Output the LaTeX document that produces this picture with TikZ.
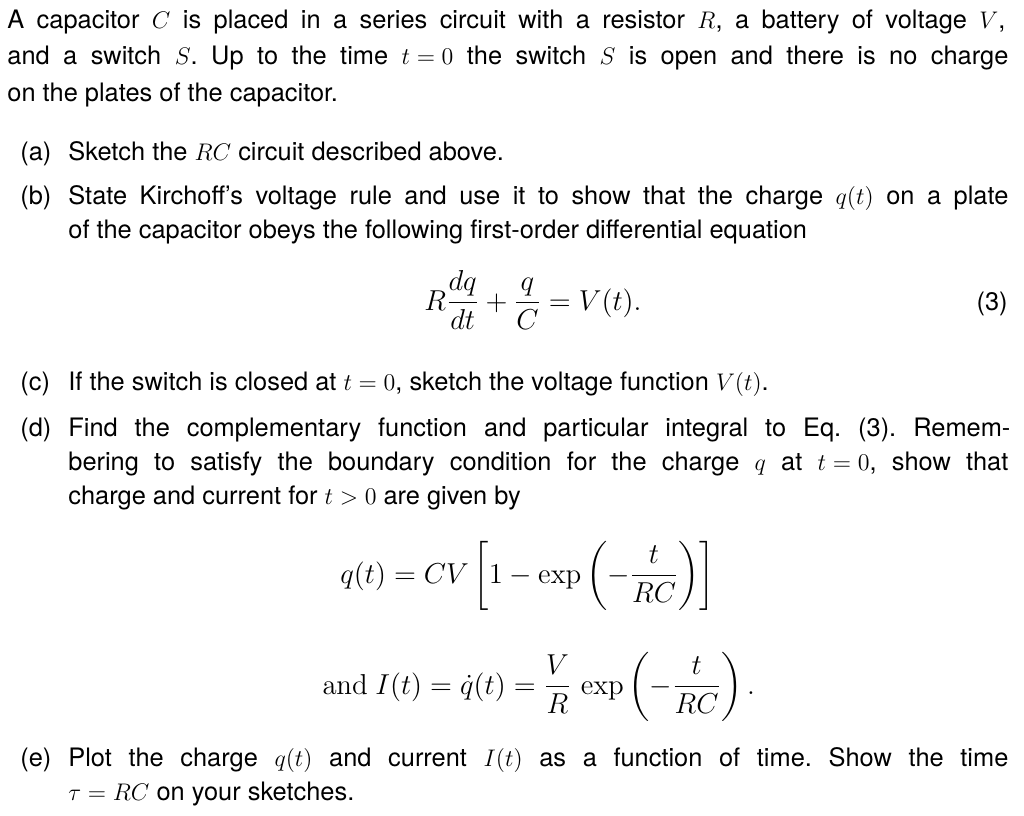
\documentclass[tikz,border=0pt]{standalone}
\usepackage{amsmath}
\usepackage[no-math]{fontspec}
\setmainfont{TeX Gyre Heros}
\newcommand{\jl}[2]{\hbox to #1pt{#2}}
\newcommand{\lnfont}{\fontsize{12.7}{14}\selectfont\frenchspacing\thickmuskip=5mu\relax\medmuskip=4mu\relax}
\begin{document}
\begin{tikzpicture}[x=0.5pt,y=-0.5pt,
  ln/.style={anchor=base west,inner sep=0pt,font=\lnfont},
  eq/.style={anchor=base,inner sep=0pt,font=\fontsize{13.6}{15}\selectfont}]
\useasboundingbox (0,0) rectangle (1024,815);
\node[ln] (l1) at (7,28) {\jl{499}{A capacitor $C$ is placed in a series circuit with a resistor $R$, a battery of voltage $V$,}};
\node[ln] (l2) at (7,64) {\jl{500.5}{and a switch $S$. Up to the time $t=0$ the switch $S$ is open and there is no charge}};
\node[ln] (l3) at (7,101) {on the plates of the capacitor.};
\node[ln] (a) at (20,160) {(a)};
\node[ln] (a1) at (68,160) {Sketch the $RC$ circuit described above.};
\node[ln] (b) at (20,204) {(b)};
\node[ln] (b1) at (68,204) {\jl{470}{State Kirchoff's voltage rule and use it to show that the charge $q(t)$ on a plate}};
\node[ln] (b2) at (68,238) {of the capacitor obeys the following first-order differential equation};
\node[eq] (e3) at (533,310) {$\displaystyle R\frac{dq}{dt}+\frac{q}{C}=V(t).$};
\node[ln,anchor=base east] (n3) at (1008,310) {(3)};
\node[ln] (c) at (20,390) {(c)};
\node[ln] (c1) at (68,390) {If the switch is closed at $t=0$, sketch the voltage function $V(t)$.};
\node[ln] (d) at (20,436) {(d)};
\node[ln] (d1) at (68,436) {\jl{471}{Find the complementary function and particular integral to Eq. (3). Remem-}};
\node[ln] (d2) at (68,470) {\jl{470}{bering to satisfy the boundary condition for the charge $q$ at $t=0$, show that}};
\node[ln] (d3) at (68,504) {charge and current for $t>0$ are given by};
\node[eq,anchor=base west] (eq1) at (340,583) {$\displaystyle q(t)=CV\left[1-\exp\left(-\frac{t}{RC}\right)\right]$};
\node[eq,anchor=base west] (eq2) at (322,694) {$\displaystyle \mathrm{and}\ I(t)=\dot q(t)=\frac{V}{R}\,\exp\left(-\frac{t}{RC}\right).$};
\node[ln] (e) at (20,766) {(e)};
\node[ln] (e1) at (68,766) {\jl{470}{Plot the charge $q(t)$ and current $I(t)$ as a function of time. Show the time}};
\node[ln] (e2) at (68,800) {$\tau=RC$ on your sketches.};
\end{tikzpicture}
\end{document}
